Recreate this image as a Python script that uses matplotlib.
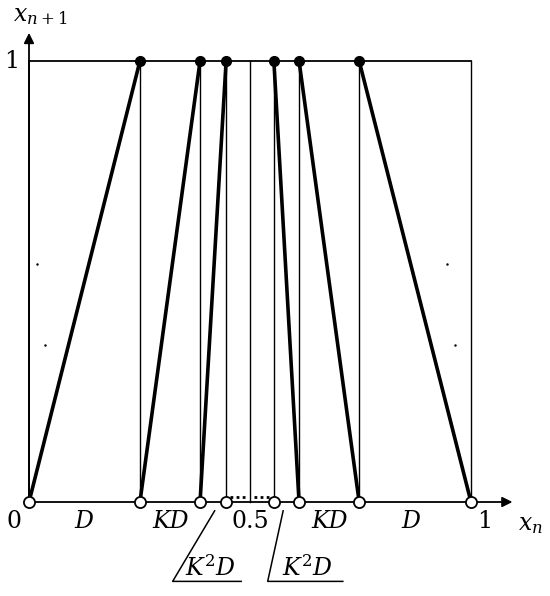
import matplotlib
matplotlib.use("Agg")
import matplotlib.pyplot as plt
plt.rcParams['mathtext.fontset'] = 'dejavuserif'

# breakpoints of the map (x positions)
breaks = [0.0, 0.251, 0.387, 0.446, 0.554, 0.611, 0.747, 1.0]
# thick branches: (x_start, y_start, x_end, y_end)
branches = [(0.0, 0, 0.251, 1), (0.251, 0, 0.387, 1), (0.387, 0, 0.446, 1),
            (0.554, 1, 0.611, 0), (0.611, 1, 0.747, 0), (0.747, 1, 1.0, 0)]
verticals = [0.251, 0.387, 0.446, 0.5, 0.554, 0.611, 0.747, 1.0]
top_dots = [0.251, 0.387, 0.446, 0.554, 0.611, 0.747]
bottom_dots = [0.0, 0.251, 0.387, 0.446, 0.554, 0.611, 0.747, 1.0]
seg_labels = [("D", 0.125), ("KD", 0.32), ("KD", 0.68), ("D", 0.865)]

W, H = 550, 596
fig = plt.figure(figsize=(W/100, H/100), dpi=100)
ax = fig.add_axes([0, 0, 1, 1])
ax.set_xlim(-29/442, (W-29)/442)
ax.set_ylim((502-H)/441, 502/441)
ax.axis('off')

ax.plot([0, 1], [1, 1], color='black', lw=1.3)
ax.plot([0, 0], [0, 1], color='black', lw=1.3)
for v in verticals:
    ax.plot([v, v], [0, 1], color='black', lw=1.0)
for x0, y0, x1, y1 in branches:
    ax.plot([x0, x1], [y0, y1], color='black', lw=2.6, solid_capstyle='round')
ax.annotate('', xy=(1.1, 0), xytext=(0, 0),
            arrowprops=dict(arrowstyle='-|>', color='black', lw=1.3, mutation_scale=15))
ax.annotate('', xy=(0, 1.07), xytext=(0, 0),
            arrowprops=dict(arrowstyle='-|>', color='black', lw=1.3, mutation_scale=15))
ax.plot([0.455, 0.492], [0.011, 0.011], color='black', lw=2, ls=(0, (1, 1.2)))
ax.plot([0.508, 0.545], [0.011, 0.011], color='black', lw=2, ls=(0, (1, 1.2)))
for x, y in [(0.018, 0.54), (0.036, 0.355), (0.946, 0.54), (0.964, 0.355)]:
    ax.plot(x, y, 'k.', ms=1.5)
ax.plot(top_dots, [1]*len(top_dots), 'o', color='black', ms=7, zorder=5)
ax.plot(bottom_dots, [0]*len(bottom_dots), 'o', mfc='white', mec='black', mew=1.3, ms=8, zorder=5)

fs = 17
ax.text(-0.033, -0.045, "0", fontsize=fs, ha='center', va='center', family='DejaVu Serif')
ax.text(1.03, -0.045, "1", fontsize=fs, ha='center', va='center', family='DejaVu Serif')
ax.text(0.5, -0.045, "0.5", fontsize=fs, ha='center', va='center', family='DejaVu Serif')
for t, x in seg_labels:
    ax.text(x, -0.045, t, fontsize=fs, ha='center', va='center', family='DejaVu Serif', style='italic')
ax.text(1.135, -0.05, "$x_n$", fontsize=fs, ha='center', va='center')
ax.text(0.025, 1.105, "$x_{n+1}$", fontsize=fs, ha='center', va='center')
ax.text(-0.04, 1.0, "1", fontsize=fs, ha='center', va='center', family='DejaVu Serif')
ax.plot([0.42, 0.325, 0.48], [-0.02, -0.18, -0.18], color='black', lw=1.1)
ax.plot([0.575, 0.54, 0.71], [-0.02, -0.18, -0.18], color='black', lw=1.1)
ax.text(0.41, -0.15, "$K^2D$", fontsize=fs, ha='center', va='center')
ax.text(0.63, -0.15, "$K^2D$", fontsize=fs, ha='center', va='center')

fig.savefig("out.png", dpi=100)
